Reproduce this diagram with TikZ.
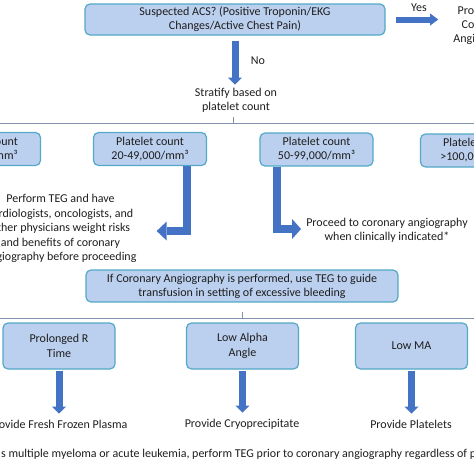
\documentclass[tikz,border=0pt]{standalone}
\usepackage{fontspec}
\setmainfont{Carlito}
\usetikzlibrary{arrows.meta}

\definecolor{boxfill}{RGB}{187,207,238}
\definecolor{boxline}{RGB}{84,168,200}
\definecolor{flowblue}{RGB}{68,114,196}
\definecolor{braceline}{RGB}{128,146,172}
\definecolor{inktext}{RGB}{30,30,30}

\tikzset{
  every node/.style={font=\fontsize{12}{14}\selectfont, text=inktext},
  stepbox/.style={rectangle, rounded corners=5pt, draw=boxline, fill=boxfill, line width=1.2pt, align=center, inner sep=0pt},
  pltbox/.style={stepbox, minimum width=113pt, minimum height=33pt},
  resbox/.style={stepbox, minimum width=112pt, minimum height=46pt, font=\fontsize{12}{15}\selectfont},
  note/.style={align=center, inner sep=1pt},
  flow/.style={draw=flowblue, color=flowblue, line width=7pt, line join=miter, -{Triangle[length=7pt,width=14pt,line width=0pt]}},
  brace/.style={draw=braceline, line width=0.8pt}
}

\begin{document}
\begin{tikzpicture}[x=1pt, y=-1pt]

\useasboundingbox (0,0) rectangle (474,474);
\clip (0,0) rectangle (474,474);

%Top question
\node (acs) at (235,19.5) [stepbox, minimum width=300pt, minimum height=31pt] {Suspected ACS? (Positive Troponin/EKG\\Changes/Active Chest Pain)};
\node (proc) at (484,25) [note] {Proceed to\\Coronary\\Angiography};
\draw[flow, line width=6pt, -{Triangle[length=8pt,width=12pt,line width=0pt]}, shorten <=10pt, shorten >=14pt] (acs.east) -- (acs.east -| proc.west) node[midway, above=1.5pt] (yes) {Yes};

\node (strat) at (236,100) [note] {Stratify based on\\platelet count};
\draw[flow, shorten <=5pt, shorten >=2pt] (acs.south) -- (acs.south |- strat.north) node[midway, right=9pt] (no) {No};

%Platelet strata
\coordinate (topL) at (-2,123);
\coordinate (topR) at (476,123);
\coordinate (topT) at (233,117);
\draw[brace] (topL) -- (topR);
\draw[brace] (topT) -- (topT |- topL);

\node (p1) at (-16,149) [pltbox] {Platelet count\\<20,000/mm³};
\node (p2) at (150,149) [pltbox] {Platelet count\\20-49,000/mm³};
\node (p3) at (316.5,149.5) [pltbox] {Platelet count\\50-99,000/mm³};
\node (p4) at (477,150.5) [pltbox] {Platelet count\\>100,000/mm³};

\node (teg) at (60.5,228.5) [note, font=\fontsize{12}{14.5}\selectfont] {Perform TEG and have\\cardiologists, oncologists, and\\other physicians weight risks\\and benefits of coronary\\angiography before proceeding};
\node (go) at (387,230) [note] {Proceed to coronary angiography\\when clinically indicated*};

\draw[flow, line width=8pt, -{Triangle[length=10pt,width=19pt,line width=0pt]}, shorten >=19pt] ([xshift=36.5pt]p2.south) |- ([yshift=-2.5pt]teg.east);
\draw[flow, line width=7.5pt, -{Triangle[length=9pt,width=20pt,line width=0pt]}, shorten >=4pt] ([xshift=-39.5pt]p3.south) |- ([yshift=1pt]go.west);

%TEG guided transfusion
\node (guide) at (242,286) [stepbox, minimum width=312pt, minimum height=32pt] {If Coronary Angiography is performed, use TEG to guide\\transfusion in setting of excessive bleeding};

\coordinate (botL) at (-2,318);
\coordinate (botR) at (476,318);
\coordinate (botT) at (242,312);
\draw[brace] (botL) -- (botR);
\draw[brace] (botT) -- (botT |- botL);

\node (r1) at (59,346) [resbox] {Prolonged R\\Time};
\node (r2) at (242.5,346) [resbox] {Low Alpha\\Angle};
\node (r3) at (411.5,346) [resbox] {Low MA};

\node (ffp) at (58,424) [note] {Provide Fresh Frozen Plasma};
\node (cryo) at (242,424) [note] {Provide Cryoprecipitate};
\node (plt) at (411,424) [note] {Provide Platelets};

\draw[flow, shorten <=1pt, shorten >=5pt] (r1.south) -- (r1.south |- ffp.north);
\draw[flow, shorten <=1pt, shorten >=5pt] (r2.south) -- (r2.south |- cryo.north);
\draw[flow, shorten <=1pt, shorten >=5pt] (r3.south) -- (r3.south |- plt.north);

\node (foot) at (1,454) [anchor=west, inner sep=0pt] {s multiple myeloma or acute leukemia, perform TEG prior to coronary angiography regardless of platelet count};

\end{tikzpicture}
\end{document}
